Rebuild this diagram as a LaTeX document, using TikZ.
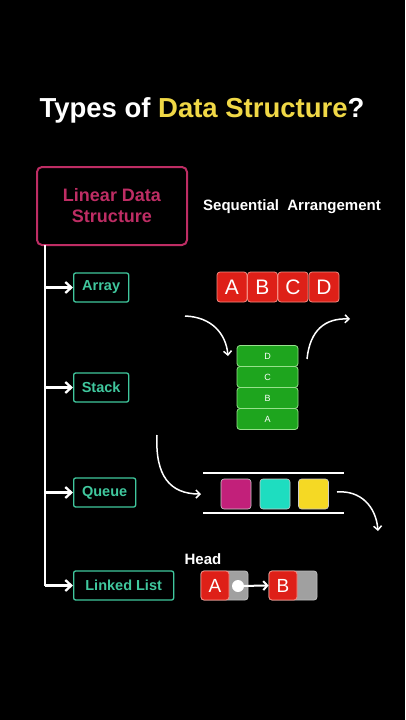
\documentclass[tikz,border=0pt]{standalone}
\usepackage{fontspec}
\setmainfont{Liberation Sans}
\usetikzlibrary{arrows.meta}

\definecolor{lincol}{RGB}{190,45,100}
\definecolor{itemcol}{RGB}{64,200,158}
\definecolor{ttlyel}{RGB}{240,216,70}
\definecolor{cellred}{RGB}{222,32,24}
\definecolor{cellrim}{RGB}{245,140,130}
\definecolor{stkgreen}{RGB}{30,165,30}
\definecolor{stkrim}{RGB}{150,225,140}
\definecolor{qmag}{RGB}{194,32,122}
\definecolor{qteal}{RGB}{30,221,192}
\definecolor{qyel}{RGB}{245,217,36}
\definecolor{llgray}{RGB}{160,160,160}

\tikzset{
  item/.style={draw=itemcol, text=itemcol, line width=1.3pt, rounded corners=2pt,
    inner sep=0pt, minimum height=29pt, anchor=west,
    font=\bfseries\fontsize{14.5}{14.5}\selectfont},
  cell/.style={fill=cellred, draw=cellrim, line width=0.8pt, rounded corners=3pt,
    minimum size=30pt, inner sep=0pt, text=white, font=\fontsize{21}{21}\selectfont},
  stk/.style={fill=stkgreen, draw=stkrim, line width=0.8pt, rounded corners=3pt,
    minimum width=61pt, minimum height=21pt, inner sep=0pt, text=white,
    font=\fontsize{9}{9}\selectfont},
  qbox/.style={draw=white!80!black, line width=0.6pt, rounded corners=3pt,
    minimum size=30pt, inner sep=0pt},
  branch/.style={draw=white, line width=2.3pt, -{Straight Barb[length=6pt,width=11pt]}},
  curve/.style={draw=white, line width=1.5pt, -{Straight Barb[length=4pt,width=8pt]}}
}

\begin{document}
\begin{tikzpicture}[x=1pt,y=-1pt]

\fill[black] (0,0) rectangle (405,720);

\node at (202,110) [text=white, font=\bfseries\fontsize{27.5}{27.5}\selectfont] (title)
  {Types of \textcolor{ttlyel}{Data Structure}?};

\node at (112,206) [draw=lincol, line width=2pt, rounded corners=5pt, minimum width=150pt,
  minimum height=78pt, align=center, text=lincol,
  font=\bfseries\fontsize{18}{21}\selectfont] (lds) {Linear Data\\Structure};

\node at (292,207) [text=white, font=\bfseries\fontsize{15}{15}\selectfont] (seq)
  {Sequential\ \ Arrangement};

\node at (73,287.5) [item, minimum width=55pt] (arr) {Array};
\node at (73,387.5) [item, minimum width=55pt] (stack) {Stack};
\node at (73,492.5) [item, minimum width=62pt] (queue) {Queue};
\node at (73,585.5) [item, minimum width=100pt] (list) {Linked List};

\coordinate (top) at (45,245);
\coordinate (t1) at (45,287.5);
\coordinate (t2) at (45,387.5);
\coordinate (t3) at (45,492.5);
\coordinate (t4) at (45,585.5);

\draw[white, line width=2.5pt] (top) -- (t4);
\draw[branch] (t1) -- (arr.west);
\draw[branch] (t2) -- (stack.west);
\draw[branch] (t3) -- (queue.west);
\draw[branch] (t4) -- (list.west);

\node at (232,287) [cell] (ca) {A};
\node at (262.5,287) [cell] (cb) {B};
\node at (293,287) [cell] (cc) {C};
\node at (324,287) [cell] (cd) {D};

\node at (267.5,356) [stk] (sd) {D};
\node at (267.5,377) [stk] (sc) {C};
\node at (267.5,398) [stk] (sb) {B};
\node at (267.5,419) [stk] (sa) {A};

\coordinate (sin) at (185,316);
\coordinate (sinend) at (228,356);
\coordinate (sout) at (307,359);
\coordinate (soutend) at (350,319);
\draw[curve] (sin) .. controls (212,317) and (226,334) .. (sinend);
\draw[curve] (sout) .. controls (310,330) and (325,318) .. (soutend);

\draw[white, line width=1.5pt] (203,473) -- (344,473);
\draw[white, line width=1.5pt] (203,513) -- (344,513);

\node at (236,494) [qbox, fill=qmag] (q1) {};
\node at (275,494) [qbox, fill=qteal] (q2) {};
\node at (313.5,494) [qbox, fill=qyel] (q3) {};

\coordinate (qin) at (157,435);
\coordinate (qinend) at (201,494);
\coordinate (qout) at (337,492);
\coordinate (qoutend) at (378,531);
\draw[curve] (qin) .. controls (155,476) and (170,494) .. (qinend);
\draw[curve] (qout) .. controls (360,490) and (376,506) .. (qoutend);

\node at (203,559) [text=white, font=\bfseries\fontsize{15}{15}\selectfont] (head) {Head};

\node at (224.5,585.5) [fill=llgray, draw=llgray!70!white, line width=0.8pt,
  rounded corners=3pt, minimum width=47pt, minimum height=29pt, inner sep=0pt] (na) {};
\node at (215,585.5) [cell, minimum width=28pt, minimum height=29pt,
  font=\fontsize{19}{19}\selectfont] (nar) {A};
\node at (238,586) [circle, fill=white, minimum size=12pt, inner sep=0pt] (dot) {};

\node at (293,585.5) [fill=llgray, draw=llgray!70!white, line width=0.8pt,
  rounded corners=3pt, minimum width=48pt, minimum height=29pt, inner sep=0pt] (nb) {};
\node at (283,585.5) [cell, minimum width=28pt, minimum height=29pt,
  font=\fontsize{19}{19}\selectfont] (nbr) {B};

\draw[white, line width=2pt, -{Straight Barb[length=4pt,width=9pt]}] (dot) -- (nbr.west);

\end{tikzpicture}
\end{document}
